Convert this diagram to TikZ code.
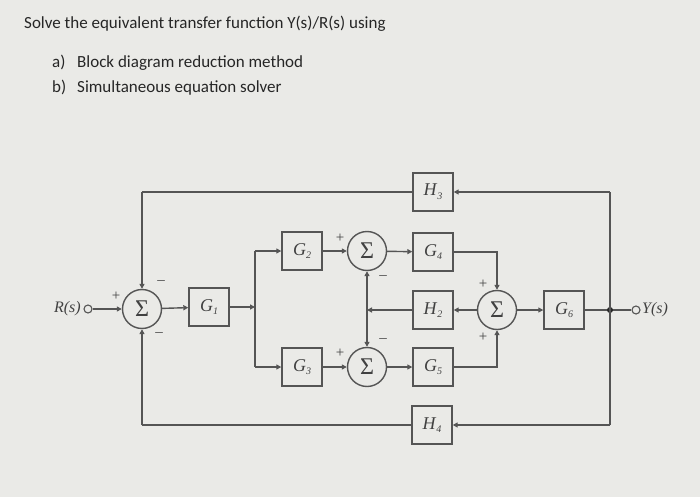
\documentclass[tikz,border=0pt]{standalone}
\usepackage{fontspec}
\setmainfont{Liberation Serif}
\newfontfamily\calib{Carlito}
\newfontfamily\djv{DejaVu Sans}
\usetikzlibrary{arrows.meta}
\definecolor{bgc}{RGB}{234,234,231}
\definecolor{linec}{RGB}{85,85,85}
\definecolor{txtc}{RGB}{38,38,38}
\definecolor{dgc}{RGB}{65,65,65}
\newcommand\blab[2]{\textit{#1}\raisebox{-0.45ex}{\fontsize{10}{10}\selectfont\itshape #2}}
\begin{document}
\begin{tikzpicture}[x=1pt,y=-1pt,
  blk/.style={draw=linec, line width=1.4pt, minimum width=40pt, minimum height=38pt, inner sep=0pt, text=dgc, font=\fontsize{18}{18}\selectfont},
  sumc/.style={draw=linec, circle, line width=1.4pt, minimum size=39pt, inner sep=0pt, text=dgc, font=\fontsize{24}{24}\selectfont},
  sig/.style={draw=linec, line width=1.4pt, -{Triangle[length=5pt,width=5pt]}},
  ln/.style={draw=linec, line width=1.4pt},
  sgn/.style={text=dgc, inner sep=0pt, font=\fontsize{15}{15}\selectfont},
  port/.style={draw=linec, circle, line width=1.1pt, minimum size=8pt, inner sep=0pt, fill=bgc},
  ttl/.style={anchor=base west, inner sep=0pt, text=txtc, font=\calib\fontsize{17}{20}\selectfont}]
\fill[bgc] (0,0) rectangle (700,497);
\useasboundingbox (0,0) rectangle (700,497);

% title text
\node[ttl] (t0) at (24,29) {Solve the equivalent transfer function Y(s)/R(s) using};
\node[ttl] (ta) at (52,68) {a)};
\node[ttl] (ta2) at (77,68) {Block diagram reduction method};
\node[ttl] (tb) at (52,93) {b)};
\node[ttl] (tb2) at (77,93) {Simultaneous equation solver};

% nodes
\node[port] (rin) at (88,309) {};
\node[anchor=east, inner sep=0pt, text=dgc, font=\fontsize{16}{16}\selectfont\itshape] (rl) at (81,309) {R(s)};
\node[sumc] (s1) at (142,309) {Σ};
\node[blk] (g1) at (209,307) {\blab{G}{1}};
\coordinate (br) at (255,307);
\node[blk] (g2) at (302,251) {\blab{G}{2}};
\node[blk] (g3) at (302,367) {\blab{G}{3}};
\node[sumc] (s2) at (367,251) {Σ};
\node[sumc] (s3) at (367,367) {Σ};
\node[blk] (g4) at (433,252) {\blab{G}{4}};
\node[blk] (g5) at (433,367) {\blab{G}{5}};
\node[blk] (h3) at (433,192) {\blab{H}{3}};
\node[blk] (h2) at (433,310) {\blab{H}{2}};
\node[blk] (h4) at (432,425) {\blab{H}{4}};
\node[sumc] (s4) at (497,310) {Σ};
\node[blk] (g6) at (564,310) {\blab{G}{6}};
\coordinate (dot) at (610,310);
\node[port] (yout) at (636,310) {};
\node[anchor=west, inner sep=0pt, text=dgc, font=\fontsize{16}{16}\selectfont\itshape] (yl) at (642,310) {Y(s)};
\coordinate (j2) at (367,310);
\coordinate (tr) at (610,192);
\coordinate (tl) at (142,192);
\coordinate (brr) at (610,425);
\coordinate (bl) at (142,425);

% connectors
\draw[sig] (rin) -- (s1);
\draw[sig] (s1) -- (g1);
\draw[sig] (g1) -- (br);
\draw[ln] (br |- g2) -- (br |- g3);
\draw[sig] (br |- g2) -- (g2);
\draw[sig] (br |- g3) -- (g3);
\draw[sig] (g2) -- (s2);
\draw[sig] (g3) -- (s3);
\draw[sig] (s2) -- (g4);
\draw[sig] (s3) -- (g5);
\draw[sig] (g4.east) -| (s4.north);
\draw[sig] (g5.east) -| (s4.south);
\draw[sig] (s4) -- (h2);
\draw[sig] (h2) -- (j2);
\draw[sig] (j2) -- (s2);
\draw[sig] (j2) -- (s3);
\draw[sig] (s4) -- (g6);
\draw[ln] (g6) -- (yout);
\fill[txtc] (dot) circle (3pt);
\draw[ln] (dot) -- (tr);
\draw[sig] (tr) -- (h3);
\draw[ln] (h3) -- (tl);
\draw[sig] (tl) -- (s1);
\draw[ln] (dot) -- (brr);
\draw[sig] (brr) -- (h4);
\draw[ln] (h4) -- (bl);
\draw[sig] (bl) -- (s1);

% signs
\node[sgn] (p1) at (116,296) {+};
\node[sgn] (m1a) at (161,283) {–};
\node[sgn] (m1b) at (159,335) {–};
\node[sgn] (p2) at (340,238) {+};
\node[sgn] (m2) at (383,278) {–};
\node[sgn] (p3) at (340,353) {+};
\node[sgn] (m3) at (383,341) {–};
\node[sgn] (p4a) at (483,284) {+};
\node[sgn] (p4b) at (483,337) {+};
\end{tikzpicture}
\end{document}
